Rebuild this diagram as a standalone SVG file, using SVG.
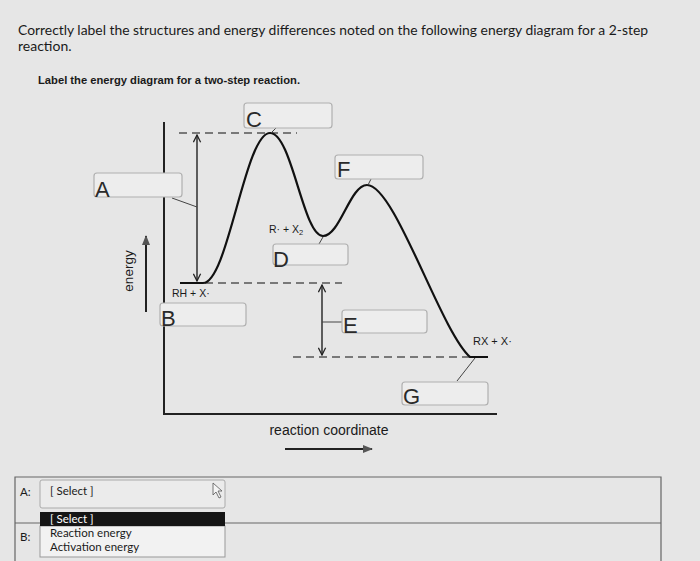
<svg xmlns="http://www.w3.org/2000/svg" width="700" height="561" viewBox="0 0 700 561">
<defs>
<style>
.title{font-family:Lato,"Open Sans","Liberation Sans",sans-serif;fill:#1a1a1a}
.sub{font-family:"Liberation Sans",Arial,sans-serif;font-weight:bold;font-size:11px;fill:#1a1a1a}
.lbl{font-family:"Liberation Sans",Arial,sans-serif;fill:#1a1a1a}
.box{fill:#ededed;stroke:#b0b0b0;stroke-width:1.2}
.letter{font-family:"Liberation Sans",Arial,sans-serif;font-size:22px;fill:#2a2a2a}
.dash{stroke:#555;stroke-width:1.3;stroke-dasharray:8 5;fill:none}
.lead{stroke:#444;stroke-width:1;fill:none}
.axis{stroke:#222;stroke-width:2;fill:none}
.ui{font-family:Lato,"Open Sans","Liberation Sans",sans-serif;font-size:11.5px;fill:#1a1a1a}
</style>
<marker id="open" viewBox="0 0 10 10" refX="9" refY="5" markerWidth="9" markerHeight="9" orient="auto-start-reverse" markerUnits="userSpaceOnUse">
<path d="M1,1 L9,5 L1,9" fill="none" stroke="#222" stroke-width="1.4"/>
</marker>
<marker id="fill" viewBox="0 0 10 10" refX="9" refY="5" markerWidth="10" markerHeight="10" orient="auto" markerUnits="userSpaceOnUse">
<path d="M0,1 L10,5 L0,9 Z" fill="#555"/>
</marker>
</defs>
<rect width="700" height="561" fill="#e6e6e6"/>

<text class="title" x="18" y="35" font-size="14" textLength="630" lengthAdjust="spacingAndGlyphs">Correctly label the structures and energy differences noted on the following energy diagram for a 2-step</text>
<text class="title" x="18" y="51" font-size="14">reaction.</text>
<text class="sub" x="38" y="84" textLength="262" lengthAdjust="spacingAndGlyphs">Label the energy diagram for a two-step reaction.</text>

<g id="axes">
<line class="axis" x1="164" y1="122" x2="164" y2="414"/>
<line class="axis" x1="163" y1="414" x2="497" y2="414"/>
<line x1="146" y1="312" x2="146" y2="236" stroke="#222" stroke-width="2" marker-end="url(#fill)"/>
<text class="lbl" font-size="13.5" transform="translate(133,271) rotate(-90)" text-anchor="middle">energy</text>
<text class="lbl" x="329" y="435" font-size="14" text-anchor="middle">reaction coordinate</text>
<line x1="285" y1="449" x2="372" y2="449" stroke="#222" stroke-width="1.8" marker-end="url(#fill)"/>
</g>

<g id="connectors">
<line class="dash" x1="179" y1="133" x2="297" y2="133"/>
<line class="dash" x1="205" y1="283" x2="342" y2="283"/>
<line class="dash" x1="293" y1="357" x2="470" y2="357"/>
<path d="M180,283 L203,283 C228,283 245,133 270,133 C292,133 303,236 323,236 C340,236 350,185 367,185 C395,185 440,330 470,357 L488,357" fill="none" stroke="#111" stroke-width="2.2"/>
<line x1="197" y1="135" x2="197" y2="281" stroke="#222" stroke-width="1.4" marker-start="url(#open)" marker-end="url(#open)"/>
<line x1="322" y1="285" x2="322" y2="355" stroke="#222" stroke-width="1.4" marker-start="url(#open)" marker-end="url(#open)"/>
<path class="lead" d="M172,198 L197,207"/>
<path class="lead" d="M276,128 L271,133"/>
<path class="lead" d="M371,179 L368,185"/>
<path class="lead" d="M323,237 L319,244"/>
<path class="lead" d="M322,322 L342,322"/>
<path class="lead" d="M475,358 L457,381"/>
</g>

<g id="species">
<text class="lbl" x="172" y="297" font-size="10.5">RH + X·</text>
<text class="lbl" x="269" y="233" font-size="10.5">R·  + X<tspan font-size="7.5" dy="2">2</tspan></text>
<text class="lbl" x="473" y="345" font-size="11">RX + X·</text>
</g>

<g id="A"><rect class="box" x="94" y="173" width="88" height="24" rx="3"/><text class="letter" x="95" y="197">A</text></g>
<g id="B"><rect class="box" x="160" y="303" width="86" height="23" rx="3"/><text class="letter" x="161" y="326">B</text></g>
<g id="C"><rect class="box" x="244" y="103" width="88" height="25" rx="3"/><text class="letter" x="246" y="127">C</text></g>
<g id="D"><rect class="box" x="273" y="244" width="75" height="21" rx="3"/><text class="letter" x="273" y="267">D</text></g>
<g id="E"><rect class="box" x="342" y="310" width="85" height="23" rx="3"/><text class="letter" x="343" y="333">E</text></g>
<g id="F"><rect class="box" x="335" y="155" width="88" height="24" rx="3"/><text class="letter" x="337" y="177">F</text></g>
<g id="G"><rect class="box" x="402" y="382" width="86" height="23" rx="3"/><text class="letter" x="403" y="404">G</text></g>

<g id="answers">
<path d="M15,561 L15,477 L661,477 L661,561" fill="none" stroke="#666" stroke-width="1.2"/>
<line x1="15" y1="523" x2="661" y2="523" stroke="#666" stroke-width="1.2"/>
<text class="ui" x="20" y="496">A:</text>
<rect x="40" y="480" width="185" height="28" rx="2" fill="#ebebeb" stroke="#aaa"/>
<text class="ui" x="50" y="495">[ Select ]</text>
<path d="M213,483 L213,495 L216,492 L219,498 L221,497 L218,491 L222,491 Z" fill="#f4f4f4" stroke="#555" stroke-width="0.8"/>
<text class="ui" x="20" y="541">B:</text>
<rect x="40" y="526" width="185" height="31" fill="#f2f2f2" stroke="#999"/>
<rect x="40" y="512" width="185" height="14" fill="#151515"/>
<text class="ui" x="50" y="523" style="fill:#fff">[ Select ]</text>
<text class="ui" x="50" y="537">Reaction energy</text>
<text class="ui" x="50" y="551">Activation energy</text>
</g>
</svg>
